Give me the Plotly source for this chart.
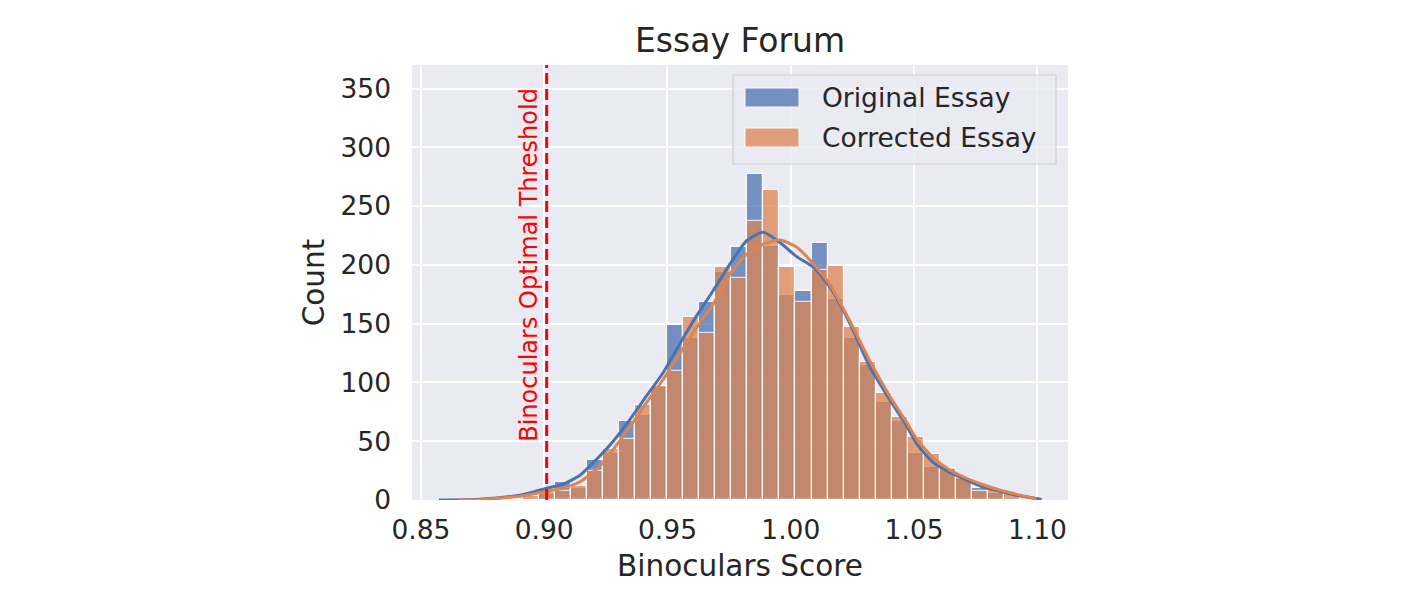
import plotly.graph_objects as go

# histogram bins (shared by both series)
bin_start = 0.8589
bin_width = 0.0065

original_counts = [1, 0, 0, 0, 1, 2, 5,
                   15, 10, 34, 40, 67, 72, 96, 149, 138, 168, 194, 215, 277, 216,
                   174, 178, 219, 171, 138, 115, 83, 67, 40, 28, 27, 18, 10, 6, 2]
corrected_counts = [0, 1, 0, 1, 1, 3, 7,
                    8, 12, 25, 43, 52, 81, 97, 110, 156, 142, 198, 189, 237, 264,
                    198, 168, 196, 199, 147, 117, 91, 71, 54, 39, 26, 19, 8, 9, 5]

# kde curves (scaled to counts)
kde_original_x = [0.8573, 0.8739, 0.8873, 0.8942, 0.9010, 0.9077, 0.9145, 0.9212, 0.9280,
                  0.9348, 0.9415, 0.9483, 0.9550, 0.9618, 0.9685, 0.9753, 0.9821, 0.9888,
                  0.9956, 1.0024, 1.0091, 1.0159, 1.0240, 1.0321, 1.0402, 1.0470, 1.0510,
                  1.0577, 1.0645, 1.0713, 1.0780, 1.0848, 1.0916, 1.1017]
kde_original_y = [0, 0.7, 3.2, 6, 10, 13.5, 21, 34.5, 50,
                  68.6, 88.5, 108.4, 133, 156.6, 178, 200.7, 220.5, 227.7,
                  219, 207, 198, 181, 150, 113, 85, 63, 48,
                  32, 23.5, 17, 11, 7.5, 4, 0.5]
kde_corrected_x = [0.8650, 0.8739, 0.8873, 0.8942, 0.9010, 0.9077, 0.9145, 0.9212, 0.9280,
                   0.9348, 0.9415, 0.9483, 0.9550, 0.9618, 0.9685, 0.9753, 0.9821, 0.9888,
                   0.9956, 1.0024, 1.0091, 1.0159, 1.0240, 1.0321, 1.0402, 1.0470, 1.0510,
                   1.0577, 1.0645, 1.0713, 1.0780, 1.0848, 1.0916, 1.0997]
kde_corrected_y = [0, 0.3, 2.5, 4.5, 7.5, 10, 15.5, 26, 43,
                   62.4, 82.8, 102.7, 124.5, 146.7, 166.6, 192.2, 209.2, 217.7,
                   221.1, 215, 201, 183, 152, 118, 88, 66, 52,
                   36, 25.5, 18.5, 13, 8.5, 4.8, 1]

threshold = 0.901
x_ticks = [0.85, 0.90, 0.95, 1.00, 1.05, 1.10]
y_ticks = [0, 50, 100, 150, 200, 250, 300, 350]

BLUE = "#4C72B0"
ORANGE = "#DD8452"
TEXT = "#262626"
FONT = "DejaVu Sans"

centers = [bin_start + (i + 0.5) * bin_width for i in range(len(original_counts))]

fig = go.Figure()
for name, counts, col in [("Original Essay", original_counts, BLUE),
                          ("Corrected Essay", corrected_counts, ORANGE)]:
    fig.add_trace(go.Bar(x=centers, y=counts, width=bin_width, name=name,
                         marker=dict(color=col, line=dict(color="white", width=1.2)),
                         opacity=0.75, showlegend=False))

fig.add_trace(go.Scatter(x=kde_original_x, y=kde_original_y, mode="lines",
                         line=dict(color=BLUE, width=3, shape="spline", smoothing=0.6),
                         showlegend=False))
fig.add_trace(go.Scatter(x=kde_corrected_x, y=kde_corrected_y, mode="lines",
                         line=dict(color=ORANGE, width=3, shape="spline", smoothing=0.6),
                         showlegend=False))

# threshold line + label
fig.add_shape(type="line", x0=threshold, x1=threshold, y0=0, y1=1, yref="paper",
              line=dict(color="red", width=3, dash="11px,5px"))
fig.add_annotation(x=threshold - 0.0072, y=200, text="Binoculars Optimal Threshold",
                   textangle=-90, showarrow=False, xanchor="center", yanchor="middle",
                   font=dict(family=FONT, size=24, color="red"))

# hand-drawn legend (wide patches like matplotlib)
def px_x(p):
    return (p - 412) / 656

def px_y(p):
    return (500 - p) / 435

fig.add_shape(type="rect", xref="paper", yref="paper",
              x0=px_x(733), x1=px_x(1056), y0=px_y(164), y1=px_y(75),
              fillcolor="rgba(234,234,242,0.8)", line=dict(color="rgba(204,204,204,0.9)", width=1.2),
              layer="above")
for i, (name, col) in enumerate([("Original Essay", BLUE), ("Corrected Essay", ORANGE)]):
    top = 88 + i * 40
    fig.add_shape(type="rect", xref="paper", yref="paper",
                  x0=px_x(745), x1=px_x(799), y0=px_y(top + 19), y1=px_y(top),
                  fillcolor=col, opacity=0.75, line=dict(color="white", width=1), layer="above")
    fig.add_annotation(xref="paper", yref="paper", x=px_x(820), y=px_y(top + 9.5),
                       text=name, showarrow=False, xanchor="left", yanchor="middle",
                       font=dict(family=FONT, size=26.5, color=TEXT))

# page body has an 8px margin, so the figure is 8px smaller each way
fig.update_layout(
    width=1398, height=590,
    margin=dict(l=404, r=338, t=57, b=98),
    paper_bgcolor="white", plot_bgcolor="#EAEAF2",
    barmode="overlay", bargap=0,
    font=dict(family=FONT, color=TEXT),
    title=dict(text="Essay Forum", x=732 / 1398, xanchor="center",
               y=1 - 32 / 590, yanchor="middle",
               font=dict(family=FONT, size=33, color=TEXT)),
    xaxis=dict(range=[0.8464, 1.1124], tickvals=x_ticks, tickformat=".2f",
               showgrid=True, gridcolor="white", gridwidth=1.6, zeroline=False,
               showline=False, ticks="", ticklabelstandoff=11,
               tickfont=dict(family=FONT, size=26.5, color=TEXT),
               title=dict(text="Binoculars Score", standoff=11,
                          font=dict(family=FONT, size=29.5, color=TEXT))),
    yaxis=dict(range=[0, 370], tickvals=y_ticks,
               showgrid=True, gridcolor="white", gridwidth=1.6, zeroline=False,
               showline=False, ticks="", ticklabelstandoff=20,
               tickfont=dict(family=FONT, size=26.5, color=TEXT),
               title=dict(text="Count", standoff=7,
                          font=dict(family=FONT, size=29.5, color=TEXT))),
)

fig.write_html("out.html")
